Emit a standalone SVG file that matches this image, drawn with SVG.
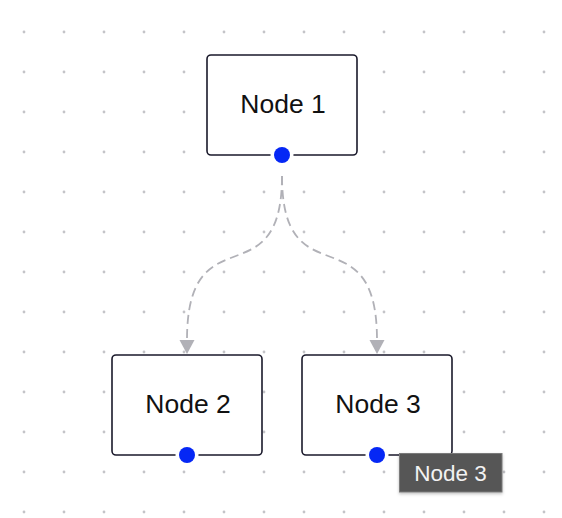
<svg xmlns="http://www.w3.org/2000/svg" width="562" height="518" viewBox="0 0 562 518">
  <defs>
    <pattern id="dots" x="0" y="0" width="40" height="40" patternUnits="userSpaceOnUse">
      <circle cx="24" cy="32" r="1.4" fill="#c4c4c8"/>
    </pattern>
    <marker id="arrow" markerUnits="userSpaceOnUse" markerWidth="16" markerHeight="16" viewBox="0 0 16 16" refX="0" refY="8" orient="auto">
      <path d="M0,0.5 L14,8 L0,15.5 Z" fill="#b1b1b7" stroke="none"/>
    </marker>
    <filter id="shadow" x="-20%" y="-30%" width="140%" height="170%">
      <feDropShadow dx="0" dy="1.5" stdDeviation="1.5" flood-color="#000" flood-opacity="0.25"/>
    </filter>
  </defs>
  <style>
    .node rect { fill: #ffffff; stroke: #1a192b; stroke-width: 1.6; }
    .label { font-family: "Liberation Sans", Arial, sans-serif; font-size: 26.5px; fill: #111111; text-anchor: middle; }
    .edge { fill: none; stroke: #b1b1b7; stroke-width: 1.8; stroke-dasharray: 9 5; }
    .ring { fill: #ffffff; }
    .handle { fill: #0527f5; }
    .tip rect { fill: #575757; stroke: #7a7a7a; stroke-width: 1; }
    .tip text { font-family: "Liberation Sans", Arial, sans-serif; font-size: 22.5px; fill: #f2f2f2; text-anchor: middle; }
  </style>
  <rect width="562" height="518" fill="#ffffff"/>
  <rect width="562" height="518" fill="url(#dots)"/>

  <g id="connectors">
    <path class="edge" d="M282,176 C282,302 187,210 187,340" marker-end="url(#arrow)"/>
    <path class="edge" d="M282,176 C282,302 377,210 377,340" marker-end="url(#arrow)"/>
  </g>

  <g id="node-1" class="node">
    <rect x="207" y="55" width="150" height="100" rx="4"/>
    <text class="label" x="283" y="113">Node 1</text>
    <circle class="ring" cx="282" cy="155" r="11.5"/>
    <circle class="handle" cx="282" cy="155" r="8"/>
  </g>

  <g id="node-2" class="node">
    <rect x="112" y="355" width="150" height="100" rx="4"/>
    <text class="label" x="188" y="413">Node 2</text>
    <circle class="ring" cx="187" cy="455" r="11.5"/>
    <circle class="handle" cx="187" cy="455" r="8"/>
  </g>

  <g id="node-3" class="node">
    <rect x="302" y="355" width="150" height="100" rx="4"/>
    <text class="label" x="378" y="413">Node 3</text>
    <circle class="ring" cx="377" cy="455" r="11.5"/>
    <circle class="handle" cx="377" cy="455" r="8"/>
  </g>

  <g id="tooltip" class="tip">
    <rect x="399.5" y="453.5" width="102.5" height="38.5" filter="url(#shadow)"/>
    <text x="450.5" y="480.5">Node 3</text>
  </g>
</svg>
